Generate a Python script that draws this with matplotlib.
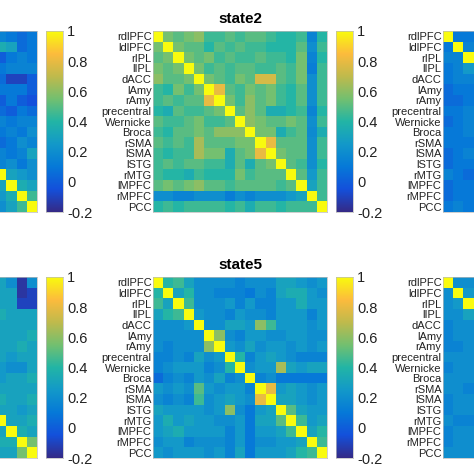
import numpy as np
import matplotlib
matplotlib.use("Agg")
import matplotlib.pyplot as plt
from matplotlib.colors import LinearSegmentedColormap

plt.rcParams['font.family'] = ['Liberation Sans', 'DejaVu Sans']

regions = ["rdlPFC", "ldlPFC", "rIPL", "lIPL", "dACC", "lAmy", "rAmy", "precentral",
           "Wernicke", "Broca", "rSMA", "lSMA", "lSTG", "rMTG", "lMPFC", "rMPFC", "PCC"]

state2 = [
    [1, .55, .5, .55, .6, .45, .45, .5, .45, .5, .5, .45, .4, .4, .45, .15, .4],
    [.55, 1, .55, .5, .5, .4, .5, .45, .5, .45, .45, .4, .4, .4, .5, .2, .45],
    [.5, .55, 1, .55, .5, .55, .45, .5, .45, .45, .5, .45, .45, .4, .55, .15, .4],
    [.55, .5, .55, 1, .55, .45, .5, .45, .5, .5, .45, .45, .5, .45, .55, .12, .45],
    [.6, .5, .5, .55, 1, .55, .5, .45, .55, .5, .75, .75, .5, .45, .55, .2, .45],
    [.45, .4, .55, .45, .55, 1, .8, .5, .45, .55, .5, .55, .45, .4, .5, .2, .45],
    [.45, .5, .45, .5, .5, .8, 1, .55, .45, .6, .5, .55, .45, .4, .5, .2, .45],
    [.4, .35, .5, .45, .45, .5, .55, 1, .5, .6, .5, .35, .35, .4, .45, .15, .4],
    [.5, .45, .45, .5, .55, .45, .45, .5, 1, .6, .55, .5, .5, .55, .5, .2, .45],
    [.45, .4, .5, .5, .55, .5, .6, .6, .6, 1, .55, .55, .35, .45, .5, .18, .35],
    [.5, .45, .5, .45, .65, .5, .5, .5, .55, .55, 1, .8, .5, .5, .5, .2, .45],
    [.45, .4, .45, .45, .65, .55, .55, .35, .5, .55, .8, 1, .55, .5, .5, .2, .45],
    [.45, .5, .45, .5, .5, .45, .45, .35, .5, .35, .5, .55, 1, .5, .45, .2, .4],
    [.45, .4, .4, .35, .45, .4, .4, .4, .55, .45, .5, .5, .5, 1, .5, .25, .45],
    [.5, .55, .5, .55, .6, .5, .5, .45, .5, .5, .5, .5, .45, .5, 1, .3, .45],
    [.2, .2, .15, .15, .2, .2, .2, .12, .2, .15, .2, .2, .2, .25, .3, 1, .45],
    [.4, .45, .4, .45, .45, .45, .45, .4, .45, .35, .45, .45, .4, .45, .45, .45, 1],
]

state5 = [
    [1, .4, .45, .3, .2, .2, .2, .2, .15, .2, .2, .2, .3, .3, .25, .2, .25],
    [.4, 1, .3, .4, .2, .2, .15, .15, .15, .1, .2, .15, .3, .35, .35, .25, .2],
    [.45, .3, 1, .45, .2, .2, .2, .25, .15, .25, .15, .15, .25, .25, .35, .25, .25],
    [.3, .4, .45, 1, .25, .2, .2, .15, .25, .2, .2, .15, .25, .25, .25, .15, .25],
    [.2, .2, .2, .25, 1, .2, .2, .3, .3, .25, .6, .45, .25, .25, .25, .2, .25],
    [.2, .2, .2, .2, .2, 1, .6, .2, .15, .25, .25, .2, .2, .25, .25, .2, .2],
    [.2, .15, .2, .2, .2, .6, 1, .25, .2, .3, .2, .25, .25, .2, .25, .2, .25],
    [.15, .15, .2, .15, .3, .2, .25, 1, .4, .15, .25, .3, .25, .2, .15, .15, .15],
    [.15, .2, .25, .25, .25, .15, .2, .4, 1, .2, .25, .25, .65, .3, .25, .3, .3],
    [.05, .15, .2, .15, .25, .2, .3, .15, .2, 1, .15, .2, .1, .1, .1, .1, .1],
    [.25, .2, .25, .2, .5, .25, .2, .25, .25, .15, 1, .8, .25, .3, .25, .2, .25],
    [.2, .15, .2, .15, .45, .2, .25, .3, .25, .2, .8, 1, .3, .3, .25, .2, .25],
    [.3, .25, .25, .25, .25, .2, .25, .6, .2, .1, .25, .3, 1, .5, .3, .25, .25],
    [.25, .35, .25, .3, .25, .25, .2, .2, .25, .1, .3, .3, .5, 1, .45, .25, .3],
    [.25, .3, .35, .25, .25, .25, .25, .15, .25, .1, .25, .25, .3, .45, 1, .3, .4],
    [.2, .25, .25, .15, .2, .2, .2, .15, .25, .1, .2, .2, .25, .25, .3, 1, .45],
    [.25, .2, .25, .25, .25, .2, .25, .15, .3, .1, .25, .25, .25, .3, .4, .45, 1],
]

# only the last 4 columns of the left panels are visible
left_top = [
    [.15, .1, .05, .1], [.35, .3, .05, .1], [0, .1, .15, .1], [.1, .15, .15, .15],
    [.05, -.1, -.1, 0], [.1, .1, .1, 0], [0, .1, 0, -.05], [.05, 0, .1, .05],
    [.15, .1, .15, .15], [.1, .15, .1, .2], [.05, .1, .2, .15], [.15, .1, .15, .3],
    [.15, .2, .1, .2], [1, .3, .25, .2], [.3, 1, .35, .3], [.25, .35, 1, .45],
    [.2, .3, .45, 1],
]
left_bot = [
    [.3, .2, -.15, .2], [.3, .3, -.15, -.1], [.3, .3, -.1, -.1], [.35, .3, .3, .3],
    [.3, .3, .3, .3], [.3, .3, .3, .35], [.3, .3, .35, .3], [.3, .25, .3, .3],
    [.25, .2, .2, .3], [.25, .3, .3, .35], [.3, .3, .3, .3], [.35, .3, .3, .35],
    [.3, .3, .25, .3], [1, .3, .3, .35], [.3, 1, .35, .3], [.35, .35, 1, .55],
    [.3, .3, .55, 1],
]
# only the first 3 columns of the right panels are visible
right_top = [
    [1, .1, .1], [.1, 1, .15], [.15, .15, 1], [.1, .15, .25], [.1, .15, .15],
    [.05, .1, .1], [.05, .05, .1], [.1, .1, .15], [.05, .1, .15], [.1, .1, .15],
    [.1, .1, .1], [.05, .1, .15], [.05, .1, .1], [.15, .1, .05], [.05, .1, .1],
    [.05, .1, .1], [.1, .15, .1],
]
right_bot = [
    [1, .2, .2], [.2, 1, .25], [.2, .25, 1], [.2, .2, .3], [.15, .2, .2],
    [.15, .2, .2], [.15, .15, .2], [.2, .2, .2], [.15, .2, .2], [.2, .2, .2],
    [.2, .2, .15], [.15, .2, .2], [.15, .2, .2], [.2, .15, .15], [.15, .2, .2],
    [.15, .2, .2], [.2, .2, .2],
]

parula = LinearSegmentedColormap.from_list("parula", [
    (0.2081, 0.1663, 0.5292), (0.0779, 0.3150, 0.8597), (0.0235, 0.4750, 0.8480),
    (0.0740, 0.6000, 0.7890), (0.1350, 0.7100, 0.6500), (0.4500, 0.7520, 0.4400),
    (0.7500, 0.7300, 0.3000), (0.9900, 0.7350, 0.2400), (0.9763, 0.9831, 0.0538)])
vmin, vmax = -0.2, 1.0
W = H = 474.0

fig = plt.figure(figsize=(4.74, 4.74), dpi=100)


def ax_px(x0, y0, w, h):
    return fig.add_axes([x0 / W, 1 - (y0 + h) / H, w / W, h / H])


def heat(ax, data, cols, labels=True):
    d = np.array(data)
    xs = np.arange(cols[0], cols[0] + d.shape[1] + 1)
    ax.pcolormesh(xs, np.arange(18), d, cmap=parula, vmin=vmin, vmax=vmax)
    ax.set_xlim(0, 17)
    ax.set_ylim(17, 0)
    ax.set_xticks([])
    if labels:
        ax.set_yticks(np.arange(17) + 0.5)
        ax.set_yticklabels(regions, fontsize=8, color="#222222")
        ax.tick_params(axis='y', length=0, pad=1)
    else:
        ax.set_yticks([])
    for s in ax.spines.values():
        s.set_linewidth(0.5)
        s.set_color("#bbbbbb")


def cbar(ax):
    grad = np.linspace(vmin, vmax, 256).reshape(-1, 1)
    ax.imshow(grad, aspect='auto', cmap=parula, origin='lower', extent=[0, 1, vmin, vmax])
    ax.set_xticks([])
    ax.yaxis.tick_right()
    ax.set_yticks([-0.2, 0, 0.2, 0.4, 0.6, 0.8, 1])
    ax.set_yticklabels(["-0.2", "0", "0.2", "0.4", "0.6", "0.8", "1"], fontsize=10.5)
    ax.tick_params(axis='y', length=0, pad=3, colors="#222222")
    for s in ax.spines.values():
        s.set_linewidth(0.5)
        s.set_color("#bbbbbb")


rows = [(31, state2, left_top, right_top, "state2"),
        (277, state5, left_bot, right_bot, "state5")]
for y0, mid, lft, rgt, title in rows:
    heat(ax_px(-137, y0, 174, 181), lft, (13,), labels=False)
    m = ax_px(153, y0, 174, 181)
    heat(m, mid, (0,))
    m.set_title(title, fontsize=11, fontweight='bold', pad=6)
    heat(ax_px(443, y0, 174, 181), rgt, (0,))
    cbar(ax_px(46, y0, 17, 181))
    cbar(ax_px(336, y0, 17, 181))

fig.savefig("out.png", dpi=100)
